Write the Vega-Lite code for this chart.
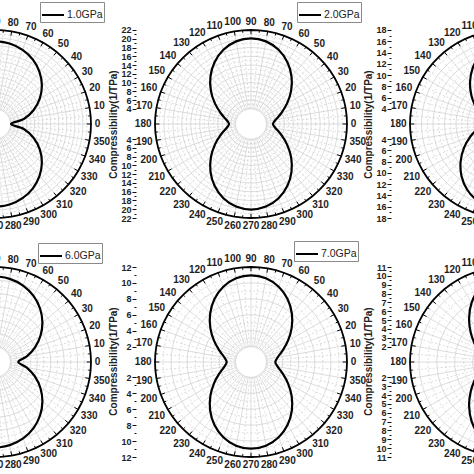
{
"$schema":"https://vega.github.io/schema/vega-lite/v6.json",
"padding":0,
"autosize":{"type":"pad"},
"background":"white",
"config":{"view":{"stroke":null},"font":"Liberation Sans","legend":{"title":null,"symbolType":"stroke","symbolSize":484,"symbolStrokeWidth":2,"symbolStrokeColor":"#000","labelFontSize":10.5,"labelFont":"Liberation Sans","labelColor":"#222","strokeColor":"#8a8a8a","fillColor":"white","padding":1,"labelOffset":2},"axis":{"grid":false,"domain":false,"tickColor":"#111","labelColor":"#222","labelFont":"Liberation Sans","labelFontWeight":"bold","labelFontSize":9,"labelPadding":1,"labelOverlap":false,"labelFlush":false,"labelBound":false,"titleFont":"Liberation Sans","titleFontWeight":"bold","titleFontSize":10,"titleColor":"#222","titlePadding":2,"titleY":124}},
"datasets":{
"angs":[{"a":0},{"a":5},{"a":10},{"a":15},{"a":20},{"a":25},{"a":30},{"a":35},{"a":40},{"a":45},{"a":50},{"a":55},{"a":60},{"a":65},{"a":70},{"a":75},{"a":80},{"a":85},{"a":90},{"a":95},{"a":100},{"a":105},{"a":110},{"a":115},{"a":120},{"a":125},{"a":130},{"a":135},{"a":140},{"a":145},{"a":150},{"a":155},{"a":160},{"a":165},{"a":170},{"a":175},{"a":180},{"a":185},{"a":190},{"a":195},{"a":200},{"a":205},{"a":210},{"a":215},{"a":220},{"a":225},{"a":230},{"a":235},{"a":240},{"a":245},{"a":250},{"a":255},{"a":260},{"a":265},{"a":270},{"a":275},{"a":280},{"a":285},{"a":290},{"a":295},{"a":300},{"a":305},{"a":310},{"a":315},{"a":320},{"a":325},{"a":330},{"a":335},{"a":340},{"a":345},{"a":350},{"a":355},{"a":360}],
"c1":[{"a":0,"r":4.14},{"a":10,"r":7.42},{"a":20,"r":10.34},{"a":30,"r":13.0},{"a":40,"r":15.36},{"a":50,"r":17.37},{"a":60,"r":18.99},{"a":70,"r":20.17},{"a":80,"r":20.9},{"a":90,"r":21.14},{"a":100,"r":20.9},{"a":110,"r":20.17},{"a":120,"r":18.99},{"a":130,"r":17.37},{"a":140,"r":15.36},{"a":150,"r":13.0},{"a":160,"r":10.34},{"a":170,"r":7.42},{"a":180,"r":4.14},{"a":190,"r":7.42},{"a":200,"r":10.34},{"a":210,"r":13.0},{"a":220,"r":15.36},{"a":230,"r":17.37},{"a":240,"r":18.99},{"a":250,"r":20.17},{"a":260,"r":20.9},{"a":270,"r":21.14},{"a":280,"r":20.9},{"a":290,"r":20.17},{"a":300,"r":18.99},{"a":310,"r":17.37},{"a":320,"r":15.36},{"a":330,"r":13.0},{"a":340,"r":10.34},{"a":350,"r":7.42}],
"c2":[{"a":0,"r":5.46},{"a":10,"r":6.15},{"a":20,"r":7.72},{"a":30,"r":9.83},{"a":40,"r":12.23},{"a":50,"r":14.65},{"a":60,"r":16.83},{"a":70,"r":18.57},{"a":80,"r":19.69},{"a":90,"r":20.07},{"a":100,"r":19.69},{"a":110,"r":18.57},{"a":120,"r":16.83},{"a":130,"r":14.65},{"a":140,"r":12.23},{"a":150,"r":9.83},{"a":160,"r":7.72},{"a":170,"r":6.15},{"a":180,"r":5.46},{"a":190,"r":6.15},{"a":200,"r":7.72},{"a":210,"r":9.83},{"a":220,"r":12.23},{"a":230,"r":14.65},{"a":240,"r":16.83},{"a":250,"r":18.57},{"a":260,"r":19.69},{"a":270,"r":20.07},{"a":280,"r":19.69},{"a":290,"r":18.57},{"a":300,"r":16.83},{"a":310,"r":14.65},{"a":320,"r":12.23},{"a":330,"r":9.83},{"a":340,"r":7.72},{"a":350,"r":6.15}],
"c3":[{"a":0,"r":5.28},{"a":10,"r":6.35},{"a":20,"r":7.91},{"a":30,"r":9.73},{"a":40,"r":11.6},{"a":50,"r":13.35},{"a":60,"r":14.79},{"a":70,"r":15.81},{"a":80,"r":16.3},{"a":90,"r":16.21},{"a":100,"r":15.56},{"a":110,"r":14.4},{"a":120,"r":12.85},{"a":130,"r":11.04},{"a":140,"r":9.16},{"a":150,"r":7.41},{"a":160,"r":5.97},{"a":170,"r":5.09},{"a":180,"r":5.28},{"a":190,"r":6.35},{"a":200,"r":7.91},{"a":210,"r":9.73},{"a":220,"r":11.6},{"a":230,"r":13.35},{"a":240,"r":14.79},{"a":250,"r":15.81},{"a":260,"r":16.3},{"a":270,"r":16.21},{"a":280,"r":15.56},{"a":290,"r":14.4},{"a":300,"r":12.85},{"a":310,"r":11.04},{"a":320,"r":9.16},{"a":330,"r":7.41},{"a":340,"r":5.97},{"a":350,"r":5.09}],
"c6":[{"a":0,"r":3.17},{"a":10,"r":4.51},{"a":20,"r":6.02},{"a":30,"r":7.51},{"a":40,"r":8.92},{"a":50,"r":10.16},{"a":60,"r":11.18},{"a":70,"r":11.94},{"a":80,"r":12.41},{"a":90,"r":12.57},{"a":100,"r":12.41},{"a":110,"r":11.94},{"a":120,"r":11.18},{"a":130,"r":10.16},{"a":140,"r":8.92},{"a":150,"r":7.51},{"a":160,"r":6.02},{"a":170,"r":4.51},{"a":180,"r":3.17},{"a":190,"r":4.51},{"a":200,"r":6.02},{"a":210,"r":7.51},{"a":220,"r":8.92},{"a":230,"r":10.16},{"a":240,"r":11.18},{"a":250,"r":11.94},{"a":260,"r":12.41},{"a":270,"r":12.57},{"a":280,"r":12.41},{"a":290,"r":11.94},{"a":300,"r":11.18},{"a":310,"r":10.16},{"a":320,"r":8.92},{"a":330,"r":7.51},{"a":340,"r":6.02},{"a":350,"r":4.51}],
"c7":[{"a":0,"r":3.1},{"a":10,"r":3.44},{"a":20,"r":4.25},{"a":30,"r":5.37},{"a":40,"r":6.66},{"a":50,"r":7.98},{"a":60,"r":9.18},{"a":70,"r":10.13},{"a":80,"r":10.75},{"a":90,"r":10.96},{"a":100,"r":10.75},{"a":110,"r":10.13},{"a":120,"r":9.18},{"a":130,"r":7.98},{"a":140,"r":6.66},{"a":150,"r":5.37},{"a":160,"r":4.25},{"a":170,"r":3.44},{"a":180,"r":3.1},{"a":190,"r":3.44},{"a":200,"r":4.25},{"a":210,"r":5.37},{"a":220,"r":6.66},{"a":230,"r":7.98},{"a":240,"r":9.18},{"a":250,"r":10.13},{"a":260,"r":10.75},{"a":270,"r":10.96},{"a":280,"r":10.75},{"a":290,"r":10.13},{"a":300,"r":9.18},{"a":310,"r":7.98},{"a":320,"r":6.66},{"a":330,"r":5.37},{"a":340,"r":4.25},{"a":350,"r":3.44}],
"c8":[{"a":0,"r":2.95},{"a":10,"r":3.06},{"a":20,"r":3.49},{"a":30,"r":4.3},{"a":40,"r":5.41},{"a":50,"r":6.69},{"a":60,"r":7.97},{"a":70,"r":9.05},{"a":80,"r":9.78},{"a":90,"r":10.03},{"a":100,"r":9.78},{"a":110,"r":9.05},{"a":120,"r":7.97},{"a":130,"r":6.69},{"a":140,"r":5.41},{"a":150,"r":4.3},{"a":160,"r":3.49},{"a":170,"r":3.06},{"a":180,"r":2.95},{"a":190,"r":3.06},{"a":200,"r":3.49},{"a":210,"r":4.3},{"a":220,"r":5.41},{"a":230,"r":6.69},{"a":240,"r":7.97},{"a":250,"r":9.05},{"a":260,"r":9.78},{"a":270,"r":10.03},{"a":280,"r":9.78},{"a":290,"r":9.05},{"a":300,"r":7.97},{"a":310,"r":6.69},{"a":320,"r":5.41},{"a":330,"r":4.3},{"a":340,"r":3.49},{"a":350,"r":3.06}]
},
"columns":3,
"align":"each",
"spacing":0,
"bounds":"flush",
"resolve":{"scale":{"x":"independent","y":"independent","color":"independent"},"legend":{"color":"independent"}},
"concat":[
{"width":136,"height":237,
"encoding":{"x":{"field":"x","type":"quantitative","scale":{"domain":[0.0521,1.4688],"nice":false,"zero":false},"axis":null},"y":{"field":"y","type":"quantitative","scale":{"domain":[-1.2021,1.3191],"nice":false,"zero":false},"axis":null}},
"layer":[
{"data":{"name":"angs"},"transform":[{"fold":["4","6","8","10","12","14","16","18","20","22","24"],"as":["ring","v"]},{"calculate":"0.161+0.839*(toNumber(datum.ring)-4)/20","as":"rho"},{"calculate":"datum.rho*cos(datum.a*PI/180)","as":"x"},{"calculate":"datum.rho*sin(datum.a*PI/180)","as":"y"}],"mark":{"type":"line","stroke":"#c6c6c6","strokeWidth":0.6,"clip":true},"encoding":{"detail":{"field":"ring","type":"nominal"},"order":{"field":"a","type":"quantitative"}}},
{"data":{"name":"angs"},"transform":[{"fold":["5","7","9","11","13","15","17","19","21","23"],"as":["ring","v"]},{"calculate":"0.161+0.839*(toNumber(datum.ring)-4)/20","as":"rho"},{"calculate":"datum.rho*cos(datum.a*PI/180)","as":"x"},{"calculate":"datum.rho*sin(datum.a*PI/180)","as":"y"}],"mark":{"type":"line","stroke":"#c6c6c6","strokeWidth":0.6,"strokeDash":[2,2],"clip":true},"encoding":{"detail":{"field":"ring","type":"nominal"},"order":{"field":"a","type":"quantitative"}}},
{"data":{"name":"angs"},"transform":[{"filter":"datum.a < 360 && datum.a % 10 == 0"},{"calculate":"0.161*cos(datum.a*PI/180)","as":"x"},{"calculate":"0.161*sin(datum.a*PI/180)","as":"y"},{"calculate":"cos(datum.a*PI/180)","as":"x2"},{"calculate":"sin(datum.a*PI/180)","as":"y2"}],"mark":{"type":"rule","stroke":"#c6c6c6","strokeWidth":0.6,"clip":true},"encoding":{"x2":{"field":"x2"},"y2":{"field":"y2"}}},
{"data":{"name":"angs"},"transform":[{"filter":"datum.a % 10 == 5"},{"calculate":"0.161*cos(datum.a*PI/180)","as":"x"},{"calculate":"0.161*sin(datum.a*PI/180)","as":"y"},{"calculate":"cos(datum.a*PI/180)","as":"x2"},{"calculate":"sin(datum.a*PI/180)","as":"y2"}],"mark":{"type":"rule","stroke":"#c6c6c6","strokeWidth":0.6,"strokeDash":[2,2],"clip":true},"encoding":{"x2":{"field":"x2"},"y2":{"field":"y2"}}},
{"data":{"name":"angs"},"transform":[{"calculate":"cos(datum.a*PI/180)","as":"x"},{"calculate":"sin(datum.a*PI/180)","as":"y"}],"mark":{"type":"line","stroke":"#000","strokeWidth":1.8,"clip":true},"encoding":{"order":{"field":"a","type":"quantitative"}}},
{"data":{"name":"angs"},"transform":[{"filter":"datum.a < 360"},{"calculate":"datum.a % 10 == 0 ? 0.955 : 0.975","as":"k"},{"calculate":"cos(datum.a*PI/180)","as":"x"},{"calculate":"sin(datum.a*PI/180)","as":"y"},{"calculate":"datum.k*cos(datum.a*PI/180)","as":"x2"},{"calculate":"datum.k*sin(datum.a*PI/180)","as":"y2"}],"mark":{"type":"rule","stroke":"#000","strokeWidth":1,"clip":true},"encoding":{"x2":{"field":"x2"},"y2":{"field":"y2"}}},
{"data":{"name":"angs"},"transform":[{"filter":"datum.a < 360 && datum.a % 10 == 0"},{"calculate":"datum.a*PI/180","as":"t"},{"calculate":"4+abs(cos(datum.t))*length(toString(datum.a))*2.6+abs(sin(datum.t))*4","as":"g"},{"calculate":"cos(datum.t)*(1+datum.g/96)","as":"x"},{"calculate":"sin(datum.t)*(1+datum.g/94)","as":"y"}],"mark":{"type":"text","font":"Liberation Sans","fontWeight":"bold","fontSize":10,"fill":"#1e1e1e","align":"center","baseline":"middle","clip":true},"encoding":{"text":{"field":"a","type":"quantitative","format":"d"}}},
{"data":{"name":"c1"},"transform":[{"calculate":"0.161+0.839*(datum.r-4)/20","as":"rho"},{"calculate":"datum.rho*cos(datum.a*PI/180)","as":"x"},{"calculate":"datum.rho*sin(datum.a*PI/180)","as":"y"}],"mark":{"type":"line","interpolate":"cardinal-closed","strokeWidth":2.2,"clip":true},"encoding":{"order":{"field":"a","type":"quantitative"},"color":{"datum":"1.0GPa","type":"nominal","scale":{"range":["#000000"]},"legend":{"orient":"none","legendX":40,"legendY":2}}}}
]},
{"width":255,"height":237,
"encoding":{"x":{"field":"x","type":"quantitative","scale":{"domain":[-1.1979,1.4583],"nice":false,"zero":false},"axis":null},"y":{"field":"y","type":"quantitative","scale":{"domain":[-1.2021,1.3191],"nice":false,"zero":false},"axis":{"orient":"left","title":"Compressibility(1/TPa)","values":[0.161,0.2076,0.2542,0.3008,0.3474,0.3941,0.4407,0.4873,0.5339,0.5805,0.6271,0.6737,0.7203,0.7669,0.8136,0.8602,0.9068,0.9534,1,-0.161,-0.2076,-0.2542,-0.3008,-0.3474,-0.3941,-0.4407,-0.4873,-0.5339,-0.5805,-0.6271,-0.6737,-0.7203,-0.7669,-0.8136,-0.8602,-0.9068,-0.9534,-1],"labelExpr":"round(4+(abs(datum.value)-0.161)*18/0.839) % 2 == 0 ? toString(round(4+(abs(datum.value)-0.161)*18/0.839)) : ''","tickSize":{"condition":{"test":"round(4+(abs(datum.value)-0.161)*18/0.839) % 2 == 0","value":4},"value":2}}}},
"layer":[
{"data":{"name":"angs"},"transform":[{"fold":["4","6","8","10","12","14","16","18","20","22"],"as":["ring","v"]},{"calculate":"0.161+0.839*(toNumber(datum.ring)-4)/18","as":"rho"},{"calculate":"datum.rho*cos(datum.a*PI/180)","as":"x"},{"calculate":"datum.rho*sin(datum.a*PI/180)","as":"y"}],"mark":{"type":"line","stroke":"#c6c6c6","strokeWidth":0.6,"clip":true},"encoding":{"detail":{"field":"ring","type":"nominal"},"order":{"field":"a","type":"quantitative"}}},
{"data":{"name":"angs"},"transform":[{"fold":["5","7","9","11","13","15","17","19","21"],"as":["ring","v"]},{"calculate":"0.161+0.839*(toNumber(datum.ring)-4)/18","as":"rho"},{"calculate":"datum.rho*cos(datum.a*PI/180)","as":"x"},{"calculate":"datum.rho*sin(datum.a*PI/180)","as":"y"}],"mark":{"type":"line","stroke":"#c6c6c6","strokeWidth":0.6,"strokeDash":[2,2],"clip":true},"encoding":{"detail":{"field":"ring","type":"nominal"},"order":{"field":"a","type":"quantitative"}}},
{"data":{"name":"angs"},"transform":[{"filter":"datum.a < 360 && datum.a % 10 == 0"},{"calculate":"0.161*cos(datum.a*PI/180)","as":"x"},{"calculate":"0.161*sin(datum.a*PI/180)","as":"y"},{"calculate":"cos(datum.a*PI/180)","as":"x2"},{"calculate":"sin(datum.a*PI/180)","as":"y2"}],"mark":{"type":"rule","stroke":"#c6c6c6","strokeWidth":0.6,"clip":true},"encoding":{"x2":{"field":"x2"},"y2":{"field":"y2"}}},
{"data":{"name":"angs"},"transform":[{"filter":"datum.a % 10 == 5"},{"calculate":"0.161*cos(datum.a*PI/180)","as":"x"},{"calculate":"0.161*sin(datum.a*PI/180)","as":"y"},{"calculate":"cos(datum.a*PI/180)","as":"x2"},{"calculate":"sin(datum.a*PI/180)","as":"y2"}],"mark":{"type":"rule","stroke":"#c6c6c6","strokeWidth":0.6,"strokeDash":[2,2],"clip":true},"encoding":{"x2":{"field":"x2"},"y2":{"field":"y2"}}},
{"data":{"name":"angs"},"transform":[{"calculate":"cos(datum.a*PI/180)","as":"x"},{"calculate":"sin(datum.a*PI/180)","as":"y"}],"mark":{"type":"line","stroke":"#000","strokeWidth":1.8,"clip":true},"encoding":{"order":{"field":"a","type":"quantitative"}}},
{"data":{"name":"angs"},"transform":[{"filter":"datum.a < 360"},{"calculate":"datum.a % 10 == 0 ? 0.955 : 0.975","as":"k"},{"calculate":"cos(datum.a*PI/180)","as":"x"},{"calculate":"sin(datum.a*PI/180)","as":"y"},{"calculate":"datum.k*cos(datum.a*PI/180)","as":"x2"},{"calculate":"datum.k*sin(datum.a*PI/180)","as":"y2"}],"mark":{"type":"rule","stroke":"#000","strokeWidth":1,"clip":true},"encoding":{"x2":{"field":"x2"},"y2":{"field":"y2"}}},
{"data":{"name":"angs"},"transform":[{"filter":"datum.a < 360 && datum.a % 10 == 0"},{"calculate":"datum.a*PI/180","as":"t"},{"calculate":"4+abs(cos(datum.t))*length(toString(datum.a))*2.6+abs(sin(datum.t))*4","as":"g"},{"calculate":"cos(datum.t)*(1+datum.g/96)","as":"x"},{"calculate":"sin(datum.t)*(1+datum.g/94)","as":"y"}],"mark":{"type":"text","font":"Liberation Sans","fontWeight":"bold","fontSize":10,"fill":"#1e1e1e","align":"center","baseline":"middle"},"encoding":{"text":{"field":"a","type":"quantitative","format":"d"}}},
{"data":{"name":"angs"},"transform":[{"filter":"datum.a == 90 || datum.a == 270"},{"calculate":"0.161*sin(datum.a*PI/180)","as":"y"},{"calculate":"sin(datum.a*PI/180)","as":"y2"}],"mark":{"type":"rule","stroke":"#111","strokeWidth":1},"encoding":{"x":{"datum":-1.1979},"y2":{"field":"y2"}}},
{"data":{"name":"c2"},"transform":[{"calculate":"0.161+0.839*(datum.r-4)/18","as":"rho"},{"calculate":"datum.rho*cos(datum.a*PI/180)","as":"x"},{"calculate":"datum.rho*sin(datum.a*PI/180)","as":"y"}],"mark":{"type":"line","interpolate":"cardinal-closed","strokeWidth":2.2,"clip":true},"encoding":{"order":{"field":"a","type":"quantitative"},"color":{"datum":"2.0GPa","type":"nominal","scale":{"range":["#000000"]},"legend":{"orient":"none","legendX":161,"legendY":2}}}}
]},
{"width":83,"height":237,
"encoding":{"x":{"field":"x","type":"quantitative","scale":{"domain":[-1.1979,-0.3333],"nice":false,"zero":false},"axis":null},"y":{"field":"y","type":"quantitative","scale":{"domain":[-1.2021,1.3191],"nice":false,"zero":false},"axis":{"orient":"left","title":"Compressibility(1/TPa)","values":[0.161,0.2209,0.2809,0.3408,0.4007,0.4606,0.5206,0.5805,0.6404,0.7004,0.7603,0.8202,0.8801,0.9401,1,-0.161,-0.2209,-0.2809,-0.3408,-0.4007,-0.4606,-0.5206,-0.5805,-0.6404,-0.7004,-0.7603,-0.8202,-0.8801,-0.9401,-1],"labelExpr":"round(4+(abs(datum.value)-0.161)*14/0.839) % 2 == 0 ? toString(round(4+(abs(datum.value)-0.161)*14/0.839)) : ''","tickSize":{"condition":{"test":"round(4+(abs(datum.value)-0.161)*14/0.839) % 2 == 0","value":4},"value":2}}}},
"layer":[
{"data":{"name":"angs"},"transform":[{"fold":["4","6","8","10","12","14","16","18"],"as":["ring","v"]},{"calculate":"0.161+0.839*(toNumber(datum.ring)-4)/14","as":"rho"},{"calculate":"datum.rho*cos(datum.a*PI/180)","as":"x"},{"calculate":"datum.rho*sin(datum.a*PI/180)","as":"y"}],"mark":{"type":"line","stroke":"#c6c6c6","strokeWidth":0.6,"clip":true},"encoding":{"detail":{"field":"ring","type":"nominal"},"order":{"field":"a","type":"quantitative"}}},
{"data":{"name":"angs"},"transform":[{"fold":["5","7","9","11","13","15","17"],"as":["ring","v"]},{"calculate":"0.161+0.839*(toNumber(datum.ring)-4)/14","as":"rho"},{"calculate":"datum.rho*cos(datum.a*PI/180)","as":"x"},{"calculate":"datum.rho*sin(datum.a*PI/180)","as":"y"}],"mark":{"type":"line","stroke":"#c6c6c6","strokeWidth":0.6,"strokeDash":[2,2],"clip":true},"encoding":{"detail":{"field":"ring","type":"nominal"},"order":{"field":"a","type":"quantitative"}}},
{"data":{"name":"angs"},"transform":[{"filter":"datum.a < 360 && datum.a % 10 == 0"},{"calculate":"0.161*cos(datum.a*PI/180)","as":"x"},{"calculate":"0.161*sin(datum.a*PI/180)","as":"y"},{"calculate":"cos(datum.a*PI/180)","as":"x2"},{"calculate":"sin(datum.a*PI/180)","as":"y2"}],"mark":{"type":"rule","stroke":"#c6c6c6","strokeWidth":0.6,"clip":true},"encoding":{"x2":{"field":"x2"},"y2":{"field":"y2"}}},
{"data":{"name":"angs"},"transform":[{"filter":"datum.a % 10 == 5"},{"calculate":"0.161*cos(datum.a*PI/180)","as":"x"},{"calculate":"0.161*sin(datum.a*PI/180)","as":"y"},{"calculate":"cos(datum.a*PI/180)","as":"x2"},{"calculate":"sin(datum.a*PI/180)","as":"y2"}],"mark":{"type":"rule","stroke":"#c6c6c6","strokeWidth":0.6,"strokeDash":[2,2],"clip":true},"encoding":{"x2":{"field":"x2"},"y2":{"field":"y2"}}},
{"data":{"name":"angs"},"transform":[{"calculate":"cos(datum.a*PI/180)","as":"x"},{"calculate":"sin(datum.a*PI/180)","as":"y"}],"mark":{"type":"line","stroke":"#000","strokeWidth":1.8,"clip":true},"encoding":{"order":{"field":"a","type":"quantitative"}}},
{"data":{"name":"angs"},"transform":[{"filter":"datum.a < 360"},{"calculate":"datum.a % 10 == 0 ? 0.955 : 0.975","as":"k"},{"calculate":"cos(datum.a*PI/180)","as":"x"},{"calculate":"sin(datum.a*PI/180)","as":"y"},{"calculate":"datum.k*cos(datum.a*PI/180)","as":"x2"},{"calculate":"datum.k*sin(datum.a*PI/180)","as":"y2"}],"mark":{"type":"rule","stroke":"#000","strokeWidth":1,"clip":true},"encoding":{"x2":{"field":"x2"},"y2":{"field":"y2"}}},
{"data":{"name":"angs"},"transform":[{"filter":"datum.a < 360 && datum.a % 10 == 0"},{"calculate":"datum.a*PI/180","as":"t"},{"calculate":"4+abs(cos(datum.t))*length(toString(datum.a))*2.6+abs(sin(datum.t))*4","as":"g"},{"calculate":"cos(datum.t)*(1+datum.g/96)","as":"x"},{"calculate":"sin(datum.t)*(1+datum.g/94)","as":"y"}],"mark":{"type":"text","font":"Liberation Sans","fontWeight":"bold","fontSize":10,"fill":"#1e1e1e","align":"center","baseline":"middle","clip":true},"encoding":{"text":{"field":"a","type":"quantitative","format":"d"}}},
{"data":{"name":"angs"},"transform":[{"filter":"datum.a == 90 || datum.a == 270"},{"calculate":"0.161*sin(datum.a*PI/180)","as":"y"},{"calculate":"sin(datum.a*PI/180)","as":"y2"}],"mark":{"type":"rule","stroke":"#111","strokeWidth":1},"encoding":{"x":{"datum":-1.1979},"y2":{"field":"y2"}}},
{"data":{"name":"c3"},"transform":[{"calculate":"0.161+0.839*(datum.r-4)/14","as":"rho"},{"calculate":"datum.rho*cos(datum.a*PI/180)","as":"x"},{"calculate":"datum.rho*sin(datum.a*PI/180)","as":"y"}],"mark":{"type":"line","interpolate":"cardinal-closed","strokeWidth":2.2,"clip":true},"encoding":{"order":{"field":"a","type":"quantitative"},"color":{"datum":"3.0GPa","type":"nominal","scale":{"range":["#000000"]},"legend":null}}}
]},
{"width":136,"height":237,
"encoding":{"x":{"field":"x","type":"quantitative","scale":{"domain":[0.0521,1.4688],"nice":false,"zero":false},"axis":null},"y":{"field":"y","type":"quantitative","scale":{"domain":[-1.1789,1.3158],"nice":false,"zero":false},"axis":null}},
"layer":[
{"data":{"name":"angs"},"transform":[{"fold":["2","4","6","8","10","12","14"],"as":["ring","v"]},{"calculate":"0.161+0.839*(toNumber(datum.ring)-2)/12","as":"rho"},{"calculate":"datum.rho*cos(datum.a*PI/180)","as":"x"},{"calculate":"datum.rho*sin(datum.a*PI/180)","as":"y"}],"mark":{"type":"line","stroke":"#c6c6c6","strokeWidth":0.6,"clip":true},"encoding":{"detail":{"field":"ring","type":"nominal"},"order":{"field":"a","type":"quantitative"}}},
{"data":{"name":"angs"},"transform":[{"fold":["3","5","7","9","11","13"],"as":["ring","v"]},{"calculate":"0.161+0.839*(toNumber(datum.ring)-2)/12","as":"rho"},{"calculate":"datum.rho*cos(datum.a*PI/180)","as":"x"},{"calculate":"datum.rho*sin(datum.a*PI/180)","as":"y"}],"mark":{"type":"line","stroke":"#c6c6c6","strokeWidth":0.6,"strokeDash":[2,2],"clip":true},"encoding":{"detail":{"field":"ring","type":"nominal"},"order":{"field":"a","type":"quantitative"}}},
{"data":{"name":"angs"},"transform":[{"filter":"datum.a < 360 && datum.a % 10 == 0"},{"calculate":"0.161*cos(datum.a*PI/180)","as":"x"},{"calculate":"0.161*sin(datum.a*PI/180)","as":"y"},{"calculate":"cos(datum.a*PI/180)","as":"x2"},{"calculate":"sin(datum.a*PI/180)","as":"y2"}],"mark":{"type":"rule","stroke":"#c6c6c6","strokeWidth":0.6,"clip":true},"encoding":{"x2":{"field":"x2"},"y2":{"field":"y2"}}},
{"data":{"name":"angs"},"transform":[{"filter":"datum.a % 10 == 5"},{"calculate":"0.161*cos(datum.a*PI/180)","as":"x"},{"calculate":"0.161*sin(datum.a*PI/180)","as":"y"},{"calculate":"cos(datum.a*PI/180)","as":"x2"},{"calculate":"sin(datum.a*PI/180)","as":"y2"}],"mark":{"type":"rule","stroke":"#c6c6c6","strokeWidth":0.6,"strokeDash":[2,2],"clip":true},"encoding":{"x2":{"field":"x2"},"y2":{"field":"y2"}}},
{"data":{"name":"angs"},"transform":[{"calculate":"cos(datum.a*PI/180)","as":"x"},{"calculate":"sin(datum.a*PI/180)","as":"y"}],"mark":{"type":"line","stroke":"#000","strokeWidth":1.8,"clip":true},"encoding":{"order":{"field":"a","type":"quantitative"}}},
{"data":{"name":"angs"},"transform":[{"filter":"datum.a < 360"},{"calculate":"datum.a % 10 == 0 ? 0.955 : 0.975","as":"k"},{"calculate":"cos(datum.a*PI/180)","as":"x"},{"calculate":"sin(datum.a*PI/180)","as":"y"},{"calculate":"datum.k*cos(datum.a*PI/180)","as":"x2"},{"calculate":"datum.k*sin(datum.a*PI/180)","as":"y2"}],"mark":{"type":"rule","stroke":"#000","strokeWidth":1,"clip":true},"encoding":{"x2":{"field":"x2"},"y2":{"field":"y2"}}},
{"data":{"name":"angs"},"transform":[{"filter":"datum.a < 360 && datum.a % 10 == 0"},{"calculate":"datum.a*PI/180","as":"t"},{"calculate":"4+abs(cos(datum.t))*length(toString(datum.a))*2.6+abs(sin(datum.t))*4","as":"g"},{"calculate":"cos(datum.t)*(1+datum.g/96)","as":"x"},{"calculate":"sin(datum.t)*(1+datum.g/95)","as":"y"}],"mark":{"type":"text","font":"Liberation Sans","fontWeight":"bold","fontSize":10,"fill":"#1e1e1e","align":"center","baseline":"middle","clip":true},"encoding":{"text":{"field":"a","type":"quantitative","format":"d"}}},
{"data":{"name":"c6"},"transform":[{"calculate":"0.161+0.839*(datum.r-2)/12","as":"rho"},{"calculate":"datum.rho*cos(datum.a*PI/180)","as":"x"},{"calculate":"datum.rho*sin(datum.a*PI/180)","as":"y"}],"mark":{"type":"line","interpolate":"cardinal-closed","strokeWidth":2.2,"clip":true},"encoding":{"order":{"field":"a","type":"quantitative"},"color":{"datum":"6.0GPa","type":"nominal","scale":{"range":["#000000"]},"legend":{"orient":"none","legendX":38,"legendY":6}}}}
]},
{"width":255,"height":237,
"encoding":{"x":{"field":"x","type":"quantitative","scale":{"domain":[-1.1979,1.4583],"nice":false,"zero":false},"axis":null},"y":{"field":"y","type":"quantitative","scale":{"domain":[-1.1789,1.3158],"nice":false,"zero":false},"axis":{"orient":"left","title":"Compressibility(1/TPa)","values":[0.161,0.2449,0.3288,0.4127,0.4966,0.5805,0.6644,0.7483,0.8322,0.9161,1,-0.161,-0.2449,-0.3288,-0.4127,-0.4966,-0.5805,-0.6644,-0.7483,-0.8322,-0.9161,-1],"labelExpr":"round(2+(abs(datum.value)-0.161)*10/0.839) % 2 == 0 ? toString(round(2+(abs(datum.value)-0.161)*10/0.839)) : ''","tickSize":{"condition":{"test":"round(2+(abs(datum.value)-0.161)*10/0.839) % 2 == 0","value":4},"value":2}}}},
"layer":[
{"data":{"name":"angs"},"transform":[{"fold":["2","4","6","8","10","12"],"as":["ring","v"]},{"calculate":"0.161+0.839*(toNumber(datum.ring)-2)/10","as":"rho"},{"calculate":"datum.rho*cos(datum.a*PI/180)","as":"x"},{"calculate":"datum.rho*sin(datum.a*PI/180)","as":"y"}],"mark":{"type":"line","stroke":"#c6c6c6","strokeWidth":0.6,"clip":true},"encoding":{"detail":{"field":"ring","type":"nominal"},"order":{"field":"a","type":"quantitative"}}},
{"data":{"name":"angs"},"transform":[{"fold":["3","5","7","9","11"],"as":["ring","v"]},{"calculate":"0.161+0.839*(toNumber(datum.ring)-2)/10","as":"rho"},{"calculate":"datum.rho*cos(datum.a*PI/180)","as":"x"},{"calculate":"datum.rho*sin(datum.a*PI/180)","as":"y"}],"mark":{"type":"line","stroke":"#c6c6c6","strokeWidth":0.6,"strokeDash":[2,2],"clip":true},"encoding":{"detail":{"field":"ring","type":"nominal"},"order":{"field":"a","type":"quantitative"}}},
{"data":{"name":"angs"},"transform":[{"filter":"datum.a < 360 && datum.a % 10 == 0"},{"calculate":"0.161*cos(datum.a*PI/180)","as":"x"},{"calculate":"0.161*sin(datum.a*PI/180)","as":"y"},{"calculate":"cos(datum.a*PI/180)","as":"x2"},{"calculate":"sin(datum.a*PI/180)","as":"y2"}],"mark":{"type":"rule","stroke":"#c6c6c6","strokeWidth":0.6,"clip":true},"encoding":{"x2":{"field":"x2"},"y2":{"field":"y2"}}},
{"data":{"name":"angs"},"transform":[{"filter":"datum.a % 10 == 5"},{"calculate":"0.161*cos(datum.a*PI/180)","as":"x"},{"calculate":"0.161*sin(datum.a*PI/180)","as":"y"},{"calculate":"cos(datum.a*PI/180)","as":"x2"},{"calculate":"sin(datum.a*PI/180)","as":"y2"}],"mark":{"type":"rule","stroke":"#c6c6c6","strokeWidth":0.6,"strokeDash":[2,2],"clip":true},"encoding":{"x2":{"field":"x2"},"y2":{"field":"y2"}}},
{"data":{"name":"angs"},"transform":[{"calculate":"cos(datum.a*PI/180)","as":"x"},{"calculate":"sin(datum.a*PI/180)","as":"y"}],"mark":{"type":"line","stroke":"#000","strokeWidth":1.8,"clip":true},"encoding":{"order":{"field":"a","type":"quantitative"}}},
{"data":{"name":"angs"},"transform":[{"filter":"datum.a < 360"},{"calculate":"datum.a % 10 == 0 ? 0.955 : 0.975","as":"k"},{"calculate":"cos(datum.a*PI/180)","as":"x"},{"calculate":"sin(datum.a*PI/180)","as":"y"},{"calculate":"datum.k*cos(datum.a*PI/180)","as":"x2"},{"calculate":"datum.k*sin(datum.a*PI/180)","as":"y2"}],"mark":{"type":"rule","stroke":"#000","strokeWidth":1,"clip":true},"encoding":{"x2":{"field":"x2"},"y2":{"field":"y2"}}},
{"data":{"name":"angs"},"transform":[{"filter":"datum.a < 360 && datum.a % 10 == 0"},{"calculate":"datum.a*PI/180","as":"t"},{"calculate":"4+abs(cos(datum.t))*length(toString(datum.a))*2.6+abs(sin(datum.t))*4","as":"g"},{"calculate":"cos(datum.t)*(1+datum.g/96)","as":"x"},{"calculate":"sin(datum.t)*(1+datum.g/95)","as":"y"}],"mark":{"type":"text","font":"Liberation Sans","fontWeight":"bold","fontSize":10,"fill":"#1e1e1e","align":"center","baseline":"middle"},"encoding":{"text":{"field":"a","type":"quantitative","format":"d"}}},
{"data":{"name":"angs"},"transform":[{"filter":"datum.a == 90 || datum.a == 270"},{"calculate":"0.161*sin(datum.a*PI/180)","as":"y"},{"calculate":"sin(datum.a*PI/180)","as":"y2"}],"mark":{"type":"rule","stroke":"#111","strokeWidth":1},"encoding":{"x":{"datum":-1.1979},"y2":{"field":"y2"}}},
{"data":{"name":"c7"},"transform":[{"calculate":"0.161+0.839*(datum.r-2)/10","as":"rho"},{"calculate":"datum.rho*cos(datum.a*PI/180)","as":"x"},{"calculate":"datum.rho*sin(datum.a*PI/180)","as":"y"}],"mark":{"type":"line","interpolate":"cardinal-closed","strokeWidth":2.2,"clip":true},"encoding":{"order":{"field":"a","type":"quantitative"},"color":{"datum":"7.0GPa","type":"nominal","scale":{"range":["#000000"]},"legend":{"orient":"none","legendX":158,"legendY":4}}}}
]},
{"width":83,"height":237,
"encoding":{"x":{"field":"x","type":"quantitative","scale":{"domain":[-1.1979,-0.3333],"nice":false,"zero":false},"axis":null},"y":{"field":"y","type":"quantitative","scale":{"domain":[-1.1789,1.3158],"nice":false,"zero":false},"axis":{"orient":"left","title":"Compressibility(1/TPa)","values":[0.161,0.2076,0.2542,0.3008,0.3474,0.3941,0.4407,0.4873,0.5339,0.5805,0.6271,0.6737,0.7203,0.7669,0.8136,0.8602,0.9068,0.9534,1,-0.161,-0.2076,-0.2542,-0.3008,-0.3474,-0.3941,-0.4407,-0.4873,-0.5339,-0.5805,-0.6271,-0.6737,-0.7203,-0.7669,-0.8136,-0.8602,-0.9068,-0.9534,-1],"labelExpr":"round(2*(2+(abs(datum.value)-0.161)*9/0.839)) % 2 == 0 ? toString(round(2+(abs(datum.value)-0.161)*9/0.839)) : ''","tickSize":{"condition":{"test":"round(2*(2+(abs(datum.value)-0.161)*9/0.839)) % 2 == 0","value":4},"value":2}}}},
"layer":[
{"data":{"name":"angs"},"transform":[{"fold":["2","4","6","8","10"],"as":["ring","v"]},{"calculate":"0.161+0.839*(toNumber(datum.ring)-2)/9","as":"rho"},{"calculate":"datum.rho*cos(datum.a*PI/180)","as":"x"},{"calculate":"datum.rho*sin(datum.a*PI/180)","as":"y"}],"mark":{"type":"line","stroke":"#c6c6c6","strokeWidth":0.6,"clip":true},"encoding":{"detail":{"field":"ring","type":"nominal"},"order":{"field":"a","type":"quantitative"}}},
{"data":{"name":"angs"},"transform":[{"fold":["3","5","7","9"],"as":["ring","v"]},{"calculate":"0.161+0.839*(toNumber(datum.ring)-2)/9","as":"rho"},{"calculate":"datum.rho*cos(datum.a*PI/180)","as":"x"},{"calculate":"datum.rho*sin(datum.a*PI/180)","as":"y"}],"mark":{"type":"line","stroke":"#c6c6c6","strokeWidth":0.6,"strokeDash":[2,2],"clip":true},"encoding":{"detail":{"field":"ring","type":"nominal"},"order":{"field":"a","type":"quantitative"}}},
{"data":{"name":"angs"},"transform":[{"filter":"datum.a < 360 && datum.a % 10 == 0"},{"calculate":"0.161*cos(datum.a*PI/180)","as":"x"},{"calculate":"0.161*sin(datum.a*PI/180)","as":"y"},{"calculate":"cos(datum.a*PI/180)","as":"x2"},{"calculate":"sin(datum.a*PI/180)","as":"y2"}],"mark":{"type":"rule","stroke":"#c6c6c6","strokeWidth":0.6,"clip":true},"encoding":{"x2":{"field":"x2"},"y2":{"field":"y2"}}},
{"data":{"name":"angs"},"transform":[{"filter":"datum.a % 10 == 5"},{"calculate":"0.161*cos(datum.a*PI/180)","as":"x"},{"calculate":"0.161*sin(datum.a*PI/180)","as":"y"},{"calculate":"cos(datum.a*PI/180)","as":"x2"},{"calculate":"sin(datum.a*PI/180)","as":"y2"}],"mark":{"type":"rule","stroke":"#c6c6c6","strokeWidth":0.6,"strokeDash":[2,2],"clip":true},"encoding":{"x2":{"field":"x2"},"y2":{"field":"y2"}}},
{"data":{"name":"angs"},"transform":[{"calculate":"cos(datum.a*PI/180)","as":"x"},{"calculate":"sin(datum.a*PI/180)","as":"y"}],"mark":{"type":"line","stroke":"#000","strokeWidth":1.8,"clip":true},"encoding":{"order":{"field":"a","type":"quantitative"}}},
{"data":{"name":"angs"},"transform":[{"filter":"datum.a < 360"},{"calculate":"datum.a % 10 == 0 ? 0.955 : 0.975","as":"k"},{"calculate":"cos(datum.a*PI/180)","as":"x"},{"calculate":"sin(datum.a*PI/180)","as":"y"},{"calculate":"datum.k*cos(datum.a*PI/180)","as":"x2"},{"calculate":"datum.k*sin(datum.a*PI/180)","as":"y2"}],"mark":{"type":"rule","stroke":"#000","strokeWidth":1,"clip":true},"encoding":{"x2":{"field":"x2"},"y2":{"field":"y2"}}},
{"data":{"name":"angs"},"transform":[{"filter":"datum.a < 360 && datum.a % 10 == 0"},{"calculate":"datum.a*PI/180","as":"t"},{"calculate":"4+abs(cos(datum.t))*length(toString(datum.a))*2.6+abs(sin(datum.t))*4","as":"g"},{"calculate":"cos(datum.t)*(1+datum.g/96)","as":"x"},{"calculate":"sin(datum.t)*(1+datum.g/95)","as":"y"}],"mark":{"type":"text","font":"Liberation Sans","fontWeight":"bold","fontSize":10,"fill":"#1e1e1e","align":"center","baseline":"middle","clip":true},"encoding":{"text":{"field":"a","type":"quantitative","format":"d"}}},
{"data":{"name":"angs"},"transform":[{"filter":"datum.a == 90 || datum.a == 270"},{"calculate":"0.161*sin(datum.a*PI/180)","as":"y"},{"calculate":"sin(datum.a*PI/180)","as":"y2"}],"mark":{"type":"rule","stroke":"#111","strokeWidth":1},"encoding":{"x":{"datum":-1.1979},"y2":{"field":"y2"}}},
{"data":{"name":"c8"},"transform":[{"calculate":"0.161+0.839*(datum.r-2)/9","as":"rho"},{"calculate":"datum.rho*cos(datum.a*PI/180)","as":"x"},{"calculate":"datum.rho*sin(datum.a*PI/180)","as":"y"}],"mark":{"type":"line","interpolate":"cardinal-closed","strokeWidth":2.2,"clip":true},"encoding":{"order":{"field":"a","type":"quantitative"},"color":{"datum":"8.0GPa","type":"nominal","scale":{"range":["#000000"]},"legend":null}}}
]}
]
}
